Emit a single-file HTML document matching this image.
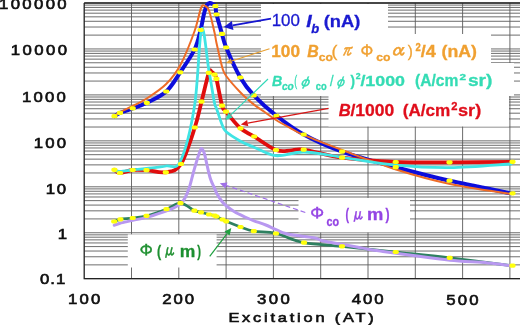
<!DOCTYPE html>
<html><head><meta charset="utf-8"><style>html,body{margin:0;padding:0;background:#fff;width:520px;height:325px;overflow:hidden}svg{display:block}</style></head><body><svg width="520" height="325" viewBox="0 0 520 325"><defs><filter id="bl" x="0" y="0" width="1" height="1"><feGaussianBlur stdDeviation="0.55"/></filter></defs><rect width="520" height="325" fill="#fff"/><g filter="url(#bl)"><g stroke="#5c5c5c" stroke-width="0.9"><line x1="84.2" y1="264.87" x2="520" y2="264.87"/><line x1="84.2" y1="256.78" x2="520" y2="256.78"/><line x1="84.2" y1="251.04" x2="520" y2="251.04"/><line x1="84.2" y1="246.58" x2="520" y2="246.58"/><line x1="84.2" y1="242.94" x2="520" y2="242.94"/><line x1="84.2" y1="239.87" x2="520" y2="239.87"/><line x1="84.2" y1="237.20" x2="520" y2="237.20"/><line x1="84.2" y1="234.85" x2="520" y2="234.85"/><line x1="84.2" y1="218.92" x2="520" y2="218.92"/><line x1="84.2" y1="210.83" x2="520" y2="210.83"/><line x1="84.2" y1="205.09" x2="520" y2="205.09"/><line x1="84.2" y1="200.63" x2="520" y2="200.63"/><line x1="84.2" y1="196.99" x2="520" y2="196.99"/><line x1="84.2" y1="193.92" x2="520" y2="193.92"/><line x1="84.2" y1="191.25" x2="520" y2="191.25"/><line x1="84.2" y1="188.90" x2="520" y2="188.90"/><line x1="84.2" y1="172.97" x2="520" y2="172.97"/><line x1="84.2" y1="164.88" x2="520" y2="164.88"/><line x1="84.2" y1="159.14" x2="520" y2="159.14"/><line x1="84.2" y1="154.68" x2="520" y2="154.68"/><line x1="84.2" y1="151.04" x2="520" y2="151.04"/><line x1="84.2" y1="147.97" x2="520" y2="147.97"/><line x1="84.2" y1="145.30" x2="520" y2="145.30"/><line x1="84.2" y1="142.95" x2="520" y2="142.95"/><line x1="84.2" y1="127.02" x2="520" y2="127.02"/><line x1="84.2" y1="118.93" x2="520" y2="118.93"/><line x1="84.2" y1="113.19" x2="520" y2="113.19"/><line x1="84.2" y1="108.73" x2="520" y2="108.73"/><line x1="84.2" y1="105.09" x2="520" y2="105.09"/><line x1="84.2" y1="102.02" x2="520" y2="102.02"/><line x1="84.2" y1="99.35" x2="520" y2="99.35"/><line x1="84.2" y1="97.00" x2="520" y2="97.00"/><line x1="84.2" y1="81.07" x2="520" y2="81.07"/><line x1="84.2" y1="72.98" x2="520" y2="72.98"/><line x1="84.2" y1="67.24" x2="520" y2="67.24"/><line x1="84.2" y1="62.78" x2="520" y2="62.78"/><line x1="84.2" y1="59.14" x2="520" y2="59.14"/><line x1="84.2" y1="56.07" x2="520" y2="56.07"/><line x1="84.2" y1="53.40" x2="520" y2="53.40"/><line x1="84.2" y1="51.05" x2="520" y2="51.05"/><line x1="84.2" y1="35.12" x2="520" y2="35.12"/><line x1="84.2" y1="27.03" x2="520" y2="27.03"/><line x1="84.2" y1="21.29" x2="520" y2="21.29"/><line x1="84.2" y1="16.83" x2="520" y2="16.83"/><line x1="84.2" y1="13.19" x2="520" y2="13.19"/><line x1="84.2" y1="10.12" x2="520" y2="10.12"/><line x1="84.2" y1="7.45" x2="520" y2="7.45"/><line x1="84.2" y1="5.10" x2="520" y2="5.10"/><line x1="84.2" y1="278.70" x2="520" y2="278.70"/><line x1="84.2" y1="232.75" x2="520" y2="232.75"/><line x1="84.2" y1="186.80" x2="520" y2="186.80"/><line x1="84.2" y1="140.85" x2="520" y2="140.85"/><line x1="84.2" y1="94.90" x2="520" y2="94.90"/><line x1="84.2" y1="48.95" x2="520" y2="48.95"/><line x1="84.2" y1="3.00" x2="520" y2="3.00"/><line x1="131.50" y1="3.0" x2="131.50" y2="278.70"/><line x1="178.80" y1="3.0" x2="178.80" y2="278.70"/><line x1="226.10" y1="3.0" x2="226.10" y2="278.70"/><line x1="273.40" y1="3.0" x2="273.40" y2="278.70"/><line x1="320.70" y1="3.0" x2="320.70" y2="278.70"/><line x1="368.00" y1="3.0" x2="368.00" y2="278.70"/><line x1="415.30" y1="3.0" x2="415.30" y2="278.70"/><line x1="462.60" y1="3.0" x2="462.60" y2="278.70"/><line x1="509.90" y1="3.0" x2="509.90" y2="278.70"/></g><g stroke="#222" stroke-width="1.3" fill="none"><path d="M84.2,3.0 H520 M84.2,3.0 V278.70 H520"/></g><rect x="261" y="4" width="127" height="30" fill="#fff"/><rect x="261" y="34" width="230" height="29" fill="#fff"/><rect x="261" y="63" width="253" height="33" fill="#fff"/><rect x="328.5" y="96" width="180.5" height="30.5" fill="#fff"/><rect x="298.5" y="198" width="111.5" height="34.30000000000001" fill="#fff"/><rect x="127.8" y="234.4" width="88.8" height="33.099999999999994" fill="#fff"/><path d="M114.2,221.5 C115.2,221.1 117.3,219.9 120.4,219.3 C123.5,218.7 128.3,218.6 132.7,218.0 C137.0,217.4 140.9,217.3 146.5,215.8 C152.1,214.3 160.8,211.3 166.5,209.2 C172.2,207.1 175.8,202.8 180.5,203.1 C185.2,203.3 191.0,209.2 194.4,210.7 C197.8,212.2 198.6,211.7 201.0,212.3 C203.4,212.9 206.8,214.0 209.0,214.5 C211.2,215.0 213.2,215.2 214.5,215.5 C215.8,215.8 215.2,215.8 216.5,216.5 C217.8,217.2 220.9,218.7 222.5,219.5 C224.1,220.3 223.2,220.1 226.2,221.3 C229.2,222.6 235.9,225.3 240.5,227.0 C245.1,228.7 247.9,230.1 253.8,231.2 C259.7,232.3 267.6,231.6 276.0,233.5 C284.4,235.4 293.0,240.6 304.0,242.7 C315.0,244.8 326.7,244.8 342.0,246.3 C357.3,247.9 377.8,250.1 395.7,252.0 C413.6,253.9 430.5,255.5 449.7,257.8 C468.9,260.1 500.8,264.3 511.0,265.6" fill="none" stroke="#2e8060" stroke-width="2.7" stroke-linejoin="round" stroke-linecap="round"/><path d="M114.2,225.2 C115.2,224.9 116.9,224.0 120.0,223.2 C123.1,222.4 128.3,221.4 132.7,220.4 C137.1,219.4 141.7,218.7 146.5,217.4 C151.3,216.1 156.9,214.2 161.5,212.6 C166.1,211.0 170.6,209.3 173.8,207.8 C177.0,206.3 178.6,205.2 180.5,203.6 C182.4,202.0 183.5,200.8 185.0,198.0 C186.5,195.2 188.0,191.5 189.5,187.0 C191.0,182.5 192.3,176.2 193.8,171.0 C195.3,165.8 197.0,159.8 198.3,156.0 C199.6,152.2 200.6,148.8 201.6,148.5 C202.6,148.2 203.6,151.2 204.5,154.0 C205.4,156.8 206.0,160.8 207.0,165.0 C208.0,169.2 209.3,175.5 210.6,179.3 C211.8,183.1 213.5,185.6 214.5,188.0 C215.5,190.4 215.6,191.2 216.8,193.5 C218.1,195.8 220.4,199.4 222.0,201.5 C223.6,203.6 224.4,204.3 226.5,206.0 C228.6,207.7 231.4,210.0 234.5,211.8 C237.6,213.6 241.8,215.5 245.0,217.0 C248.2,218.5 250.5,219.5 254.0,220.8 C257.5,222.1 262.1,223.5 265.8,225.0 C269.5,226.5 272.7,228.2 276.0,229.6 C279.3,231.0 281.9,232.5 285.8,233.5 C289.7,234.5 294.7,235.1 299.6,235.8 C304.5,236.6 311.4,237.2 315.0,238.0 C318.6,238.8 317.1,239.4 321.5,240.5 C325.9,241.6 335.6,243.2 341.7,244.3 C347.8,245.4 353.7,246.4 358.0,247.2 C362.3,248.0 363.5,248.5 367.7,249.2 C371.9,249.9 378.3,250.7 383.0,251.4 C387.7,252.1 390.7,252.5 396.0,253.2 C401.3,253.9 406.0,254.6 415.0,255.8 C424.0,257.0 437.9,259.0 450.0,260.2 C462.1,261.4 477.6,262.0 487.8,262.9 C498.0,263.8 507.1,265.2 511.0,265.6" fill="none" stroke="#b898f0" stroke-width="3.0" stroke-linejoin="round" stroke-linecap="round"/><path d="M114.5,116.2 C115.4,115.7 117.0,114.2 120.0,112.9 C123.0,111.6 128.2,110.1 132.7,108.4 C137.2,106.7 141.2,105.6 146.8,102.8 C152.4,100.0 160.6,96.6 166.2,91.5 C171.8,86.4 175.5,79.3 180.2,72.3 C184.9,65.3 191.2,56.5 194.6,49.5 C198.0,42.5 199.0,36.2 200.6,30.0 C202.2,23.8 203.2,16.7 204.3,12.5 C205.4,8.3 206.1,6.6 207.0,5.0 C207.9,3.4 208.9,3.2 209.8,3.0 C210.7,2.8 211.7,3.5 212.6,4.0 C213.5,4.5 214.6,4.5 215.3,6.2 C216.0,8.0 215.5,9.9 216.6,14.5 C217.7,19.1 220.4,28.4 222.0,33.9 C223.6,39.4 223.1,40.2 226.2,47.5 C229.2,54.8 235.7,69.5 240.3,77.5 C244.9,85.5 247.8,89.0 253.8,95.4 C259.8,101.8 268.1,109.3 276.4,115.8 C284.7,122.3 292.8,128.5 303.7,134.5 C314.6,140.5 326.8,146.2 342.1,151.6 C357.4,157.0 377.8,162.3 395.7,167.2 C413.6,172.0 430.3,176.3 449.5,180.7 C468.7,185.0 500.8,191.2 511.0,193.3" fill="none" stroke="#1010dc" stroke-width="4.0" stroke-linejoin="round" stroke-linecap="round"/><path d="M114.4,169.8 C115.3,170.3 117.0,173.0 120.0,173.0 C123.0,173.0 128.3,170.5 132.7,170.0 C137.1,169.5 141.0,169.8 146.5,170.2 C152.0,170.6 160.1,173.3 165.8,172.3 C171.6,171.3 176.2,171.5 181.0,164.0 C185.8,156.5 191.4,137.9 194.8,127.5 C198.2,117.1 199.2,110.8 201.5,101.7 C203.8,92.6 207.1,77.8 208.8,72.8 C210.5,67.8 210.7,71.5 211.6,71.8 C212.5,72.1 213.7,73.4 214.5,74.6 C215.3,75.8 215.1,73.6 216.4,78.8 C217.7,84.0 220.5,100.1 222.1,105.6 C223.7,111.1 222.9,107.8 226.0,111.6 C229.1,115.4 235.8,124.2 240.5,128.3 C245.2,132.5 248.3,132.9 254.2,136.5 C260.1,140.1 269.9,147.7 276.0,150.0 C282.1,152.3 285.9,150.7 290.5,150.6 C295.1,150.5 295.1,148.4 303.7,149.6 C312.3,150.8 326.8,155.6 342.1,157.7 C357.4,159.8 377.8,161.2 395.7,162.0 C413.6,162.8 430.3,162.3 449.5,162.3 C468.7,162.3 500.8,161.9 511.0,161.8" fill="none" stroke="#e00c0c" stroke-width="3.8" stroke-linejoin="round" stroke-linecap="round"/><path d="M114.0,116.0 C115.0,115.4 116.9,113.9 120.0,112.2 C123.1,110.5 128.2,108.3 132.7,106.0 C137.1,103.7 141.1,102.2 146.7,98.5 C152.3,94.8 160.6,89.6 166.2,84.0 C171.8,78.4 175.7,73.8 180.4,65.0 C185.1,56.2 191.2,40.5 194.6,31.0 C198.0,21.5 199.3,12.2 201.0,8.0 C202.7,3.8 203.2,5.4 204.5,5.8 C205.8,6.2 207.3,6.0 209.0,10.5 C210.7,14.9 213.2,27.1 214.5,32.5 C215.8,37.9 215.2,37.3 216.5,43.0 C217.8,48.7 220.4,61.0 222.0,66.5 C223.6,72.0 223.1,71.7 226.2,76.0 C229.3,80.3 235.9,87.7 240.5,92.5 C245.1,97.3 249.9,101.3 254.0,104.6 C258.1,107.9 261.3,109.6 265.0,112.2 C268.7,114.8 271.8,117.4 276.0,120.0 C280.2,122.6 285.3,125.3 290.0,127.8 C294.7,130.3 295.3,131.5 304.0,135.2 C312.7,138.9 326.7,144.3 342.0,150.0 C357.3,155.7 378.0,163.8 396.0,169.5 C414.0,175.2 430.8,179.9 450.0,184.0 C469.2,188.1 500.8,192.3 511.0,194.0" fill="none" stroke="#ee6c28" stroke-width="2.0" stroke-linejoin="round" stroke-linecap="round"/><path d="M114.4,170.8 C115.3,170.9 117.0,171.6 120.0,171.5 C123.0,171.4 128.3,170.5 132.7,170.0 C137.1,169.5 140.9,169.2 146.5,168.5 C152.1,167.8 160.3,167.2 166.0,166.0 C171.7,164.8 175.7,171.1 180.5,161.0 C185.3,150.9 191.1,127.4 194.6,105.4 C198.1,83.4 199.2,34.7 201.6,29.0 C204.0,23.3 206.8,58.7 209.0,71.0 C211.2,83.3 213.2,96.8 214.5,103.0 C215.8,109.2 215.2,104.9 216.5,108.5 C217.8,112.1 220.4,120.6 222.0,124.5 C223.6,128.4 223.1,129.0 226.2,131.8 C229.3,134.6 235.9,138.6 240.5,141.2 C245.1,143.8 248.1,144.8 254.0,147.2 C259.9,149.6 267.7,154.9 276.0,155.7 C284.3,156.5 293.0,151.7 304.0,152.0 C315.0,152.3 326.7,155.1 342.0,157.3 C357.3,159.5 378.0,163.5 396.0,165.2 C414.0,166.9 430.8,167.9 450.0,167.7 C469.2,167.5 500.8,164.6 511.0,164.0" fill="none" stroke="#40e4e4" stroke-width="2.8" stroke-linejoin="round" stroke-linecap="round"/><rect x="111.1" y="219.4" width="6.2" height="4.2" rx="1.8" fill="#ffff10"/><rect x="117.3" y="217.2" width="6.2" height="4.2" rx="1.8" fill="#ffff10"/><rect x="129.6" y="215.9" width="6.2" height="4.2" rx="1.8" fill="#ffff10"/><rect x="143.4" y="213.7" width="6.2" height="4.2" rx="1.8" fill="#ffff10"/><rect x="163.4" y="207.1" width="6.2" height="4.2" rx="1.8" fill="#ffff10"/><rect x="177.4" y="201.0" width="6.2" height="4.2" rx="1.8" fill="#ffff10"/><rect x="191.3" y="208.6" width="6.2" height="4.2" rx="1.8" fill="#ffff10"/><rect x="197.9" y="210.2" width="6.2" height="4.2" rx="1.8" fill="#ffff10"/><rect x="205.9" y="212.4" width="6.2" height="4.2" rx="1.8" fill="#ffff10"/><rect x="211.4" y="213.4" width="6.2" height="4.2" rx="1.8" fill="#ffff10"/><rect x="213.4" y="214.4" width="6.2" height="4.2" rx="1.8" fill="#ffff10"/><rect x="219.4" y="217.4" width="6.2" height="4.2" rx="1.8" fill="#ffff10"/><rect x="223.1" y="219.2" width="6.2" height="4.2" rx="1.8" fill="#ffff10"/><rect x="237.4" y="224.9" width="6.2" height="4.2" rx="1.8" fill="#ffff10"/><rect x="250.7" y="229.1" width="6.2" height="4.2" rx="1.8" fill="#ffff10"/><rect x="272.9" y="231.4" width="6.2" height="4.2" rx="1.8" fill="#ffff10"/><rect x="300.9" y="240.6" width="6.2" height="4.2" rx="1.8" fill="#ffff10"/><rect x="338.9" y="244.2" width="6.2" height="4.2" rx="1.8" fill="#ffff10"/><rect x="392.6" y="249.9" width="6.2" height="4.2" rx="1.8" fill="#ffff10"/><rect x="446.6" y="255.7" width="6.2" height="4.2" rx="1.8" fill="#ffff10"/><rect x="509.4" y="263.5" width="6.2" height="4.2" rx="1.8" fill="#ffff10"/><rect x="111.4" y="114.1" width="6.2" height="4.2" rx="1.8" fill="#ffff10"/><rect x="116.9" y="110.8" width="6.2" height="4.2" rx="1.8" fill="#ffff10"/><rect x="129.6" y="106.3" width="6.2" height="4.2" rx="1.8" fill="#ffff10"/><rect x="143.7" y="100.7" width="6.2" height="4.2" rx="1.8" fill="#ffff10"/><rect x="163.1" y="89.4" width="6.2" height="4.2" rx="1.8" fill="#ffff10"/><rect x="177.1" y="70.2" width="6.2" height="4.2" rx="1.8" fill="#ffff10"/><rect x="191.5" y="47.4" width="6.2" height="4.2" rx="1.8" fill="#ffff10"/><rect x="197.5" y="27.9" width="6.2" height="4.2" rx="1.8" fill="#ffff10"/><rect x="212.2" y="4.1" width="6.2" height="4.2" rx="1.8" fill="#ffff10"/><rect x="213.5" y="12.4" width="6.2" height="4.2" rx="1.8" fill="#ffff10"/><rect x="218.9" y="31.8" width="6.2" height="4.2" rx="1.8" fill="#ffff10"/><rect x="223.1" y="45.4" width="6.2" height="4.2" rx="1.8" fill="#ffff10"/><rect x="237.2" y="75.4" width="6.2" height="4.2" rx="1.8" fill="#ffff10"/><rect x="250.7" y="93.3" width="6.2" height="4.2" rx="1.8" fill="#ffff10"/><rect x="273.3" y="113.7" width="6.2" height="4.2" rx="1.8" fill="#ffff10"/><rect x="300.6" y="132.4" width="6.2" height="4.2" rx="1.8" fill="#ffff10"/><rect x="339.0" y="149.5" width="6.2" height="4.2" rx="1.8" fill="#ffff10"/><rect x="392.6" y="165.1" width="6.2" height="4.2" rx="1.8" fill="#ffff10"/><rect x="446.4" y="178.6" width="6.2" height="4.2" rx="1.8" fill="#ffff10"/><rect x="509.4" y="191.2" width="6.2" height="4.2" rx="1.8" fill="#ffff10"/><rect x="111.3" y="167.7" width="6.2" height="4.2" rx="1.8" fill="#ffff10"/><rect x="116.9" y="170.9" width="6.2" height="4.2" rx="1.8" fill="#ffff10"/><rect x="129.6" y="167.9" width="6.2" height="4.2" rx="1.8" fill="#ffff10"/><rect x="143.4" y="168.1" width="6.2" height="4.2" rx="1.8" fill="#ffff10"/><rect x="162.7" y="170.2" width="6.2" height="4.2" rx="1.8" fill="#ffff10"/><rect x="177.9" y="161.9" width="6.2" height="4.2" rx="1.8" fill="#ffff10"/><rect x="191.7" y="125.4" width="6.2" height="4.2" rx="1.8" fill="#ffff10"/><rect x="198.4" y="99.6" width="6.2" height="4.2" rx="1.8" fill="#ffff10"/><rect x="205.7" y="70.7" width="6.2" height="4.2" rx="1.8" fill="#ffff10"/><rect x="211.4" y="72.5" width="6.2" height="4.2" rx="1.8" fill="#ffff10"/><rect x="213.3" y="76.7" width="6.2" height="4.2" rx="1.8" fill="#ffff10"/><rect x="219.0" y="103.5" width="6.2" height="4.2" rx="1.8" fill="#ffff10"/><rect x="222.9" y="109.5" width="6.2" height="4.2" rx="1.8" fill="#ffff10"/><rect x="237.4" y="126.2" width="6.2" height="4.2" rx="1.8" fill="#ffff10"/><rect x="251.1" y="134.4" width="6.2" height="4.2" rx="1.8" fill="#ffff10"/><rect x="272.9" y="147.9" width="6.2" height="4.2" rx="1.8" fill="#ffff10"/><rect x="300.6" y="147.5" width="6.2" height="4.2" rx="1.8" fill="#ffff10"/><rect x="339.0" y="155.6" width="6.2" height="4.2" rx="1.8" fill="#ffff10"/><rect x="392.6" y="159.9" width="6.2" height="4.2" rx="1.8" fill="#ffff10"/><rect x="446.4" y="160.2" width="6.2" height="4.2" rx="1.8" fill="#ffff10"/><rect x="509.4" y="159.7" width="6.2" height="4.2" rx="1.8" fill="#ffff10"/><line x1="271" y1="18.6" x2="232.7" y2="25.4" stroke="#1414d0" stroke-width="1.6"/><polygon points="223.8,27 231.9,21.0 233.4,29.9" fill="#1414d0"/><line x1="269.5" y1="48.8" x2="231.7" y2="61.1" stroke="#e8a030" stroke-width="1.1"/><polygon points="226,63 230.8,58.5 232.6,63.8" fill="#e8a030"/><line x1="268" y1="79" x2="230.5" y2="115.1" stroke="#30d8b8" stroke-width="1.1"/><polygon points="225.5,120 228.3,112.8 232.8,117.4" fill="#30d8b8"/><line x1="328.5" y1="108.3" x2="247.7" y2="123.1" stroke="#d81818" stroke-width="1.2"/><polygon points="240.8,124.4 247.1,120.0 248.3,126.3" fill="#d81818"/><line x1="305.3" y1="212.5" x2="226.4" y2="185.5" stroke="#a070e8" stroke-width="1.2" stroke-dasharray="5 3"/><polygon points="219.8,183.2 227.5,182.4 225.4,188.5" fill="#a070e8"/><line x1="209.7" y1="256.4" x2="227.1" y2="233.6" stroke="#20a040" stroke-width="1.2"/><polygon points="231.3,228 229.6,235.5 224.5,231.6" fill="#20a040"/><text x="271.7" y="26.45" textLength="28.27" lengthAdjust="spacingAndGlyphs" style="font-family:&quot;Liberation Sans&quot;, sans-serif;font-size:17px;font-weight:normal;font-style:normal;fill:#1a1ad0;stroke:#1a1ad0;stroke-width:0.3">100</text><text x="306.3" y="26.95" textLength="5.49" lengthAdjust="spacingAndGlyphs" style="font-family:&quot;Liberation Sans&quot;, sans-serif;font-size:17px;font-weight:bold;font-style:italic;fill:#1a1ad0;stroke:#1a1ad0;stroke-width:0.3">I</text><text x="311.2" y="32.65" textLength="7.97" lengthAdjust="spacingAndGlyphs" style="font-family:&quot;Liberation Sans&quot;, sans-serif;font-size:12px;font-weight:bold;font-style:italic;fill:#1a1ad0;stroke:#1a1ad0;stroke-width:0.3">b</text><text x="323.7" y="27.0" textLength="36.56" lengthAdjust="spacingAndGlyphs" style="font-family:&quot;Liberation Sans&quot;, sans-serif;font-size:17px;font-weight:bold;font-style:normal;fill:#1a1ad0;stroke:#1a1ad0;stroke-width:0.3">(nA)</text><text x="271.25" y="56.7" textLength="28.8" lengthAdjust="spacingAndGlyphs" style="font-family:&quot;Liberation Sans&quot;, sans-serif;font-size:16.5px;font-weight:bold;font-style:normal;fill:#f0a030;stroke:#f0a030;stroke-width:0.3">100</text><text x="307.2" y="56.7" textLength="11.52" lengthAdjust="spacingAndGlyphs" style="font-family:&quot;Liberation Sans&quot;, sans-serif;font-size:16.5px;font-weight:bold;font-style:italic;fill:#f0a030;stroke:#f0a030;stroke-width:0.3">B</text><text x="318.8" y="60.95" textLength="14.25" lengthAdjust="spacingAndGlyphs" style="font-family:&quot;Liberation Sans&quot;, sans-serif;font-size:11.5px;font-weight:bold;font-style:normal;fill:#f0a030;stroke:#f0a030;stroke-width:0.3">co</text><text x="331.52" y="56.7" textLength="5.91" lengthAdjust="spacingAndGlyphs" style="font-family:&quot;Liberation Sans&quot;, sans-serif;font-size:16.5px;font-weight:normal;font-style:normal;fill:#f0a030;stroke:#f0a030;stroke-width:0.3">(</text><text x="339.67" y="55.75" textLength="13.75" lengthAdjust="spacingAndGlyphs" style="font-family:&quot;IPAGothic&quot;, &quot;Liberation Sans&quot;, sans-serif;font-size:16.5px;font-weight:normal;font-style:italic;fill:#f0a030;stroke:#f0a030;stroke-width:0.5">π</text><text x="358.88" y="57.2" textLength="15.81" lengthAdjust="spacingAndGlyphs" style="font-family:&quot;IPAGothic&quot;, &quot;Liberation Sans&quot;, sans-serif;font-size:16.5px;font-weight:normal;font-style:normal;fill:#f0a030;stroke:#f0a030;stroke-width:0.5">Φ</text><text x="376.2" y="61.35" textLength="14.25" lengthAdjust="spacingAndGlyphs" style="font-family:&quot;Liberation Sans&quot;, sans-serif;font-size:11.5px;font-weight:bold;font-style:normal;fill:#f0a030;stroke:#f0a030;stroke-width:0.3">co</text><text x="389.62" y="56.35" textLength="18.6" lengthAdjust="spacingAndGlyphs" style="font-family:&quot;IPAGothic&quot;, &quot;Liberation Sans&quot;, sans-serif;font-size:16.5px;font-weight:normal;font-style:normal;fill:#f0a030;stroke:#f0a030;stroke-width:0.5">α</text><text x="407.7" y="56.7" textLength="5.06" lengthAdjust="spacingAndGlyphs" style="font-family:&quot;Liberation Sans&quot;, sans-serif;font-size:16.5px;font-weight:normal;font-style:normal;fill:#f0a030;stroke:#f0a030;stroke-width:0.3">)</text><text x="415.4" y="50.75" textLength="5.26" lengthAdjust="spacingAndGlyphs" style="font-family:&quot;Liberation Sans&quot;, sans-serif;font-size:10.5px;font-weight:bold;font-style:normal;fill:#f0a030;stroke:#f0a030;stroke-width:0.3">2</text><text x="420.8" y="56.55" textLength="15.14" lengthAdjust="spacingAndGlyphs" style="font-family:&quot;Liberation Sans&quot;, sans-serif;font-size:16.5px;font-weight:bold;font-style:normal;fill:#f0a030;stroke:#f0a030;stroke-width:0.3">/4</text><text x="441.5" y="56.7" textLength="35.48" lengthAdjust="spacingAndGlyphs" style="font-family:&quot;Liberation Sans&quot;, sans-serif;font-size:16.5px;font-weight:bold;font-style:normal;fill:#f0a030;stroke:#f0a030;stroke-width:0.3">(nA)</text><text x="271.9" y="85.7" textLength="10.25" lengthAdjust="spacingAndGlyphs" style="font-family:&quot;Liberation Sans&quot;, sans-serif;font-size:14.2px;font-weight:bold;font-style:italic;fill:#34dcb4;stroke:#34dcb4;stroke-width:0.3">B</text><text x="281.9" y="89.85" textLength="11.86" lengthAdjust="spacingAndGlyphs" style="font-family:&quot;Liberation Sans&quot;, sans-serif;font-size:10.5px;font-weight:bold;font-style:italic;fill:#34dcb4;stroke:#34dcb4;stroke-width:0.3">co</text><text x="294.2" y="85.75" textLength="2.94" lengthAdjust="spacingAndGlyphs" style="font-family:&quot;Liberation Sans&quot;, sans-serif;font-size:14.2px;font-weight:normal;font-style:normal;fill:#34dcb4;stroke:#34dcb4;stroke-width:0.3">(</text><text x="298.12" y="86.75" textLength="13.4" lengthAdjust="spacingAndGlyphs" style="font-family:&quot;IPAGothic&quot;, &quot;Liberation Sans&quot;, sans-serif;font-size:14.2px;font-weight:normal;font-style:italic;fill:#34dcb4;stroke:#34dcb4;stroke-width:0.5">φ</text><text x="315.8" y="89.85" textLength="10.94" lengthAdjust="spacingAndGlyphs" style="font-family:&quot;Liberation Sans&quot;, sans-serif;font-size:10.5px;font-weight:bold;font-style:normal;fill:#34dcb4;stroke:#34dcb4;stroke-width:0.3">co</text><text x="330.25" y="86.25" textLength="2.57" lengthAdjust="spacingAndGlyphs" style="font-family:&quot;Liberation Sans&quot;, sans-serif;font-size:14.2px;font-weight:bold;font-style:italic;fill:#34dcb4;stroke:#34dcb4;stroke-width:0.3">/</text><text x="333.88" y="86.75" textLength="12.14" lengthAdjust="spacingAndGlyphs" style="font-family:&quot;IPAGothic&quot;, &quot;Liberation Sans&quot;, sans-serif;font-size:14.2px;font-weight:normal;font-style:italic;fill:#34dcb4;stroke:#34dcb4;stroke-width:0.5">φ</text><text x="350.4" y="85.75" textLength="4.5" lengthAdjust="spacingAndGlyphs" style="font-family:&quot;Liberation Sans&quot;, sans-serif;font-size:14.2px;font-weight:bold;font-style:normal;fill:#34dcb4;stroke:#34dcb4;stroke-width:0.3">)</text><text x="355.8" y="79.35" textLength="4.87" lengthAdjust="spacingAndGlyphs" style="font-family:&quot;Liberation Sans&quot;, sans-serif;font-size:9.5px;font-weight:bold;font-style:normal;fill:#34dcb4;stroke:#34dcb4;stroke-width:0.3">2</text><text x="360.4" y="85.8" textLength="44.62" lengthAdjust="spacingAndGlyphs" style="font-family:&quot;Liberation Sans&quot;, sans-serif;font-size:15.2px;font-weight:bold;font-style:normal;fill:#34dcb4;stroke:#34dcb4;stroke-width:0.3">/1000</text><text x="415.0" y="86.2" textLength="43.33" lengthAdjust="spacingAndGlyphs" style="font-family:&quot;Liberation Sans&quot;, sans-serif;font-size:15.6px;font-weight:bold;font-style:normal;fill:#34dcb4;stroke:#34dcb4;stroke-width:0.3">(A/cm</text><text x="459.6" y="80.1" textLength="6.57" lengthAdjust="spacingAndGlyphs" style="font-family:&quot;Liberation Sans&quot;, sans-serif;font-size:9.5px;font-weight:bold;font-style:normal;fill:#34dcb4;stroke:#34dcb4;stroke-width:0.3">2</text><text x="468.0" y="86.2" textLength="24.42" lengthAdjust="spacingAndGlyphs" style="font-family:&quot;Liberation Sans&quot;, sans-serif;font-size:15.6px;font-weight:bold;font-style:normal;fill:#34dcb4;stroke:#34dcb4;stroke-width:0.3">sr)</text><text x="338.8" y="115.55" textLength="12.01" lengthAdjust="spacingAndGlyphs" style="font-family:&quot;Liberation Sans&quot;, sans-serif;font-size:17.2px;font-weight:bold;font-style:italic;fill:#e0101c;stroke:#e0101c;stroke-width:0.3">B</text><text x="350.4" y="115.55" textLength="43.82" lengthAdjust="spacingAndGlyphs" style="font-family:&quot;Liberation Sans&quot;, sans-serif;font-size:17.2px;font-weight:bold;font-style:normal;fill:#e0101c;stroke:#e0101c;stroke-width:0.3">/1000</text><text x="402.7" y="115.7" textLength="47.66" lengthAdjust="spacingAndGlyphs" style="font-family:&quot;Liberation Sans&quot;, sans-serif;font-size:17.2px;font-weight:bold;font-style:normal;fill:#e0101c;stroke:#e0101c;stroke-width:0.3">(A/cm</text><text x="451.2" y="110.0" textLength="6.23" lengthAdjust="spacingAndGlyphs" style="font-family:&quot;Liberation Sans&quot;, sans-serif;font-size:11px;font-weight:bold;font-style:normal;fill:#e0101c;stroke:#e0101c;stroke-width:0.3">2</text><text x="458.0" y="115.7" textLength="23.18" lengthAdjust="spacingAndGlyphs" style="font-family:&quot;Liberation Sans&quot;, sans-serif;font-size:17.2px;font-weight:bold;font-style:normal;fill:#e0101c;stroke:#e0101c;stroke-width:0.3">sr)</text><text x="308.43" y="219.25" textLength="17.33" lengthAdjust="spacingAndGlyphs" style="font-family:&quot;IPAGothic&quot;, &quot;Liberation Sans&quot;, sans-serif;font-size:16px;font-weight:normal;font-style:normal;fill:#9444e4;stroke:#9444e4;stroke-width:0.5">Φ</text><text x="326.6" y="225.85" textLength="12.61" lengthAdjust="spacingAndGlyphs" style="font-family:&quot;Liberation Sans&quot;, sans-serif;font-size:12px;font-weight:bold;font-style:normal;fill:#9444e4;stroke:#9444e4;stroke-width:0.3">co</text><text x="345.5" y="219.95" textLength="3.52" lengthAdjust="spacingAndGlyphs" style="font-family:&quot;Liberation Sans&quot;, sans-serif;font-size:16px;font-weight:bold;font-style:normal;fill:#9444e4;stroke:#9444e4;stroke-width:0.3">(</text><text x="351.22" y="219.95" textLength="13.24" lengthAdjust="spacingAndGlyphs" style="font-family:&quot;IPAGothic&quot;, &quot;Liberation Sans&quot;, sans-serif;font-size:16px;font-weight:normal;font-style:normal;fill:#9444e4;stroke:#9444e4;stroke-width:0.5">μ</text><text x="366.95" y="220.2" textLength="16.31" lengthAdjust="spacingAndGlyphs" style="font-family:&quot;Liberation Sans&quot;, sans-serif;font-size:16px;font-weight:bold;font-style:normal;fill:#9444e4;stroke:#9444e4;stroke-width:0.3">m</text><text x="385.4" y="219.95" textLength="4.05" lengthAdjust="spacingAndGlyphs" style="font-family:&quot;Liberation Sans&quot;, sans-serif;font-size:16px;font-weight:bold;font-style:normal;fill:#9444e4;stroke:#9444e4;stroke-width:0.3">)</text><text x="137.95" y="256.1" textLength="16.4" lengthAdjust="spacingAndGlyphs" style="font-family:&quot;IPAGothic&quot;, &quot;Liberation Sans&quot;, sans-serif;font-size:16px;font-weight:normal;font-style:normal;fill:#1f9030;stroke:#1f9030;stroke-width:0.5">Φ</text><text x="156.9" y="257.1" textLength="4.16" lengthAdjust="spacingAndGlyphs" style="font-family:&quot;Liberation Sans&quot;, sans-serif;font-size:16px;font-weight:bold;font-style:normal;fill:#1f9030;stroke:#1f9030;stroke-width:0.3">(</text><text x="162.72" y="256.2" textLength="13.24" lengthAdjust="spacingAndGlyphs" style="font-family:&quot;IPAGothic&quot;, &quot;Liberation Sans&quot;, sans-serif;font-size:16px;font-weight:normal;font-style:normal;fill:#1f9030;stroke:#1f9030;stroke-width:0.5">μ</text><text x="179.71" y="256.55" textLength="15.55" lengthAdjust="spacingAndGlyphs" style="font-family:&quot;Liberation Sans&quot;, sans-serif;font-size:16px;font-weight:bold;font-style:normal;fill:#1f9030;stroke:#1f9030;stroke-width:0.3">m</text><text x="197.2" y="257.0" textLength="3.73" lengthAdjust="spacingAndGlyphs" style="font-family:&quot;Liberation Sans&quot;, sans-serif;font-size:16px;font-weight:bold;font-style:normal;fill:#1f9030;stroke:#1f9030;stroke-width:0.3">)</text><text transform="translate(-0.98,9.0) scale(1.18,1)" x="0" y="0" textLength="57.28" lengthAdjust="spacing" style="font-family:&quot;Liberation Sans&quot;, sans-serif;font-size:14.2px;font-weight:normal;fill:#111;stroke:#111;stroke-width:0.6">100000</text><text transform="translate(10.82,55.3) scale(1.18,1)" x="0" y="0" textLength="47.64" lengthAdjust="spacing" style="font-family:&quot;Liberation Sans&quot;, sans-serif;font-size:14.2px;font-weight:normal;fill:#111;stroke:#111;stroke-width:0.6">10000</text><text transform="translate(22.12,101.85) scale(1.18,1)" x="0" y="0" textLength="37.09" lengthAdjust="spacing" style="font-family:&quot;Liberation Sans&quot;, sans-serif;font-size:14.2px;font-weight:normal;fill:#111;stroke:#111;stroke-width:0.6">1000</text><text transform="translate(33.72,147.65) scale(1.18,1)" x="0" y="0" textLength="27.37" lengthAdjust="spacing" style="font-family:&quot;Liberation Sans&quot;, sans-serif;font-size:14.2px;font-weight:normal;fill:#111;stroke:#111;stroke-width:0.6">100</text><text transform="translate(45.72,193.85) scale(1.18,1)" x="0" y="0" textLength="17.31" lengthAdjust="spacing" style="font-family:&quot;Liberation Sans&quot;, sans-serif;font-size:14.2px;font-weight:normal;fill:#111;stroke:#111;stroke-width:0.6">10</text><text transform="translate(57.82,239.05) scale(1.18,1)" x="0" y="0" textLength="5.64" lengthAdjust="spacing" style="font-family:&quot;Liberation Sans&quot;, sans-serif;font-size:14.2px;font-weight:normal;fill:#111;stroke:#111;stroke-width:0.6">1</text><text transform="translate(39.9,284.3) scale(1.18,1)" x="0" y="0" textLength="21.6" lengthAdjust="spacing" style="font-family:&quot;Liberation Sans&quot;, sans-serif;font-size:14.2px;font-weight:normal;fill:#111;stroke:#111;stroke-width:0.6">0.1</text><text transform="translate(68.02,303.8) scale(1.18,1)" x="0" y="0" textLength="27.45" lengthAdjust="spacing" style="font-family:&quot;Liberation Sans&quot;, sans-serif;font-size:14.2px;font-weight:normal;fill:#111;stroke:#111;stroke-width:0.6">100</text><text transform="translate(162.2,303.7) scale(1.18,1)" x="0" y="0" textLength="27.04" lengthAdjust="spacing" style="font-family:&quot;Liberation Sans&quot;, sans-serif;font-size:14.2px;font-weight:normal;fill:#111;stroke:#111;stroke-width:0.6">200</text><text transform="translate(257.0,303.7) scale(1.18,1)" x="0" y="0" textLength="27.81" lengthAdjust="spacing" style="font-family:&quot;Liberation Sans&quot;, sans-serif;font-size:14.2px;font-weight:normal;fill:#111;stroke:#111;stroke-width:0.6">300</text><text transform="translate(351.7,304.2) scale(1.18,1)" x="0" y="0" textLength="27.04" lengthAdjust="spacing" style="font-family:&quot;Liberation Sans&quot;, sans-serif;font-size:14.2px;font-weight:normal;fill:#111;stroke:#111;stroke-width:0.6">400</text><text transform="translate(446.2,304.7) scale(1.18,1)" x="0" y="0" textLength="27.47" lengthAdjust="spacing" style="font-family:&quot;Liberation Sans&quot;, sans-serif;font-size:14.2px;font-weight:normal;fill:#111;stroke:#111;stroke-width:0.6">500</text><text transform="translate(228.38,321.85) scale(1.22,1)" x="0" y="0" textLength="119.11" lengthAdjust="spacing" style="font-family:&quot;Liberation Sans&quot;, sans-serif;font-size:13.4px;font-weight:normal;fill:#111;stroke:#111;stroke-width:0.6">Excitation (AT)</text></g></svg></body></html>
